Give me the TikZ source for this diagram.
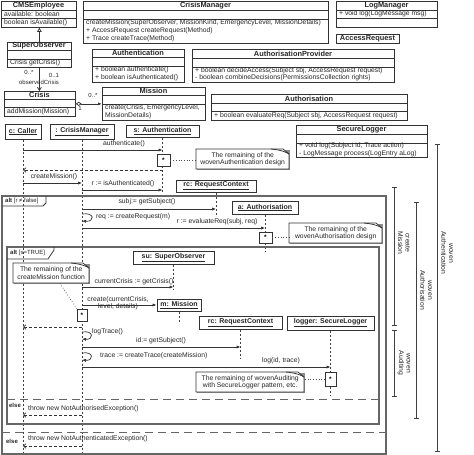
\documentclass[tikz,border=0pt]{standalone}
\usepackage{fontspec}
\setmainfont{Liberation Sans}
\usetikzlibrary{arrows.meta,calc}
\tikzset{
  ln/.style={draw=black!80, line width=0.75pt},
  txt/.style={inner sep=0pt, font=\fontsize{6.8}{7.6}\selectfont, text=black!85},
  smalltxt/.style={inner sep=0pt, font=\fontsize{6}{7}\selectfont, text=black!85},
  ttl/.style={inner sep=0pt, font=\fontsize{7.4}{8}\selectfont\bfseries, text=black!85},
  clsbox/.style={ln, fill=white, inner sep=0pt},
  head/.style={draw=black!80, line width=1pt, fill=white, inner sep=0pt, font=\fontsize{7}{8}\selectfont\bfseries, text=black!85},
  life/.style={draw=black!75, line width=0.7pt, dash pattern=on 2.5pt off 1.5pt},
  msg/.style={draw=black!80, line width=0.7pt, -{Latex[length=4pt,width=3.2pt]}},
  ret/.style={draw=black!80, line width=0.7pt, dash pattern=on 3pt off 2pt, -{Straight Barb[length=2.5pt,width=4.5pt]}},
  act/.style={draw=black!80, line width=0.8pt, fill=white, inner sep=0pt, font=\fontsize{6.5}{7}\selectfont\bfseries},
  frm/.style={draw=black!60, line width=1.3pt},
  elsel/.style={draw=black!60, line width=0.9pt, dash pattern=on 8pt off 5pt},
  dots/.style={draw=black!70, line width=0.7pt, dotted},
  brk/.style={draw=black!75, line width=0.7pt, {Bar[width=5pt]}-{Bar[width=5pt]}},
  rottxt/.style={txt, rotate=-90, align=center}
}
\newcommand\umlcls[8]{%
  \node[clsbox, anchor=north west, minimum width={(#4)-(#2)}, minimum height={(#5)-(#3)}] (#1) at (#2,#3) {};
  \draw[ln] (#2,#6) -- (#4,#6);
  \draw[ln] (#2,#7) -- (#4,#7);
  \node[ttl] (#1-t) at ({((#2)+(#4))/2},{((#3)+(#6))/2}) {#8};
}
\newcommand\umlnote[7]{%
  \fill[black!45] ({#2+1.2},{#3+1.2}) rectangle ({#4+1.2},{#5+1.2});
  \node[inner sep=0pt, anchor=north west, minimum width={(#4)-(#2)}, minimum height={(#5)-(#3)}] (#1) at (#2,#3) {};
  \draw[ln, fill=white] (#2,#3) -- ({#4-6},#3) -- (#4,{#3+5}) -- (#4,#5) -- (#2,#5) -- cycle;
  \draw[ln] ({#4-18},#3) .. controls ({#4-8},{#3+1}) and ({#4-3},{#3+3}) .. (#4,{#3+5});
  \node[txt, align=center] (#1-t) at (#1.center) {#6\\#7};
}
\begin{document}
\begin{tikzpicture}[x=1pt,y=-1pt]
\useasboundingbox (0,0) rectangle (474,455);

% ---------- class diagram ----------
\umlcls{cmse}{1}{1}{76}{27}{10}{18}{CMSEmployee}
\node[txt,anchor=west] (cmse-a) at (4,14) {available: boolean};
\node[txt,anchor=west] (cmse-o) at (4,22.5) {boolean isAvailable()};

\umlcls{cman}{83}{1}{328}{43}{10}{19}{CrisisManager}
\node[txt,anchor=west] (cman-o1) at (86,23) {createMission(SuperObserver, MissionKind, EmergencyLevel, MissionDetails)};
\node[txt,anchor=west] (cman-o2) at (86,31) {+ AccessRequest createRequest(Method)};
\node[txt,anchor=west] (cman-o3) at (86,39) {+ Trace createTrace(Method)};

\umlcls{logm}{336}{1}{437}{27}{10}{18}{LogManager}
\node[txt,anchor=west] (logm-o) at (339,14) {+ void log(LogMessage msg)};

\node[clsbox, ttl, minimum width=63, minimum height=9] (accr) at (367.5,38.5) {AccessRequest};

\umlcls{supo}{7}{42}{71}{67}{50}{59}{SuperObserver}
\node[txt,anchor=west] (supo-o) at (10,63) {Crisis getCrisis()};

\umlcls{authn}{92}{49}{184}{82}{57}{66}{Authentication}
\node[txt,anchor=west] (authn-o1) at (95,70) {+ boolean authenticate()};
\node[txt,anchor=west] (authn-o2) at (95,78) {+ boolean isAuthenticated()};

\umlcls{authp}{192}{49}{394}{82}{58}{67}{AuthorisationProvider}
\node[txt,anchor=west] (authp-o1) at (195,71) {+ boolean decideAccess(Subject sbj, AccessRequest request)};
\node[txt,anchor=west] (authp-o2) at (195,78) {- boolean combineDecisions(PermissionsCollection rights)};

\umlcls{cris}{4}{91}{75}{116}{99}{107}{Crisis}
\node[txt,anchor=west] (cris-o) at (7,112) {addMission(Mission)};

\umlcls{miss}{102}{87}{205}{120}{95}{104}{Mission}
\node[txt,anchor=west] (miss-o1) at (105,108) {create(Crisis, EmergencyLevel,};
\node[txt,anchor=west] (miss-o2) at (105,116) {MissionDetails)};

\umlcls{authz}{211}{94}{407}{120}{103}{111}{Authorisation}
\node[txt,anchor=west] (authz-o) at (214,116) {+ boolean evaluateReq(Subject sbj, AccessRequest request)};

\umlcls{slog}{296}{125}{427}{157}{134}{143}{SecureLogger}
\node[txt,anchor=west] (slog-o1) at (299,146) {+ void log(Subject id, Trace action)};
\node[txt,anchor=west] (slog-o2) at (299,154) {- LogMessage process(LogEntry aLog)};

\draw[ln, -{Triangle[open,length=4pt,width=4.5pt]}] (supo.north) -- (supo.north |- cmse.south);
\draw[ln, -{Straight Barb[length=3pt,width=4pt]}] (supo.south) -- (supo.south |- cris.north);
\node[smalltxt] (as1) at (29,72) {0..*};
\node[smalltxt] (as2) at (54,75) {0..1};
\node[smalltxt] (as3) at (39,82) {observedCrisis};
\draw[ln, {Diamond[open,length=6pt,width=4pt]}-{Latex[length=4pt,width=3pt]}] (cris.east) -- (miss.west);
\node[smalltxt] (as4) at (93,95) {0..*};
\node[smalltxt] (as5) at (80,108) {1};

% ---------- sequence diagram: heads ----------
\node[head, minimum width=36, minimum height=15] (caller) at (23,131.5) {\underline{c: Caller}};
\node[head, minimum width=64, minimum height=15] (cm) at (82,131.5) {\underline{: CrisisManager}};
\node[head, minimum width=73, minimum height=12] (s) at (162.5,131) {\underline{s: Authentication}};
\node[head, minimum width=80, minimum height=12] (rc1) at (216,186) {\underline{rc: RequestContext}};
\node[head, minimum width=66, minimum height=13] (a) at (265,207.5) {\underline{a: Authorisation}};
\node[head, minimum width=81, minimum height=13] (su) at (173.5,257.5) {\underline{su: SuperObserver}};
\node[head, minimum width=44, minimum height=12] (m) at (179,305) {\underline{m: Mission}};
\node[head, minimum width=83, minimum height=13] (rc2) at (240.5,322.5) {\underline{rc: RequestContext}};
\node[head, minimum width=87, minimum height=14] (logger) at (330.5,323) {\underline{logger: SecureLogger}};

% lifelines
\draw[life] (caller.south) -- (caller |- 0,453);
\draw[life] (cm.south) -- (cm |- 0,453);
\draw[life] (s.south) -- (s |- 0,193);
\draw[life] (rc1.south) -- (rc1 |- 0,215);
\draw[life] (a.south) -- (a |- 0,252);
\draw[life] (su.south) -- (su |- 0,290);
\draw[life] (m.south) -- (m |- 0,323);
\draw[life] (rc2.south) -- (rc2 |- 0,358);
\draw[life] (logger.south) -- (logger |- 0,395);

% frames
\draw[frm] (2,196) rectangle (386,454);
\draw[ln] (2,206) -- (43,206) -- (46,203) -- (46,196);
\node[smalltxt, anchor=west] (alt1) at (5,201) {\textbf{alt} [r ≠ false]};
\draw[frm] (7,247) rectangle (379,424);
\draw[ln] (7,259) -- (48,259) -- (54,250) -- (54,247);
\node[smalltxt, anchor=west] (alt2) at (10,253) {\textbf{alt} [s=TRUE]};
\draw[elsel] (7,399) -- (379,399);
\node[smalltxt, font=\fontsize{6}{7}\selectfont\bfseries] (else2) at (15,405) {else};
\draw[elsel] (2,432) -- (386,432);
\node[smalltxt, font=\fontsize{6}{7}\selectfont\bfseries] (else1) at (12,441) {else};

% messages
\draw[msg] (caller |- 0,150) -- (s |- 0,150);
\node[txt] (l1) at (124,144) {authenticate()};
\draw[ret] (s |- 0,170) -- (caller |- 0,170);
\draw[msg] (caller |- 0,183) -- (cm |- 0,183);
\node[txt] (l2) at (54,177) {createMission()};
\draw[msg] (cm |- 0,190) -- (s |- 0,190);
\node[txt] (l3) at (123,184) {r := isAuthenticated()};
\draw[msg] (cm |- 0,209) -- (rc1 |- 0,209);
\node[txt] (l4) at (147,202) {subj:= getSubject()};
\draw[msg] (cm |- 0,214) .. controls (95,212) and (95,222) .. (cm |- 0,221);
\node[txt, anchor=west] (l5) at (96,217) {req := createRequest(m)};
\draw[msg] (cm |- 0,228) -- (a |- 0,228);
\node[txt] (l6) at (217,222) {r := evaluateReq(subj, req)};
\draw[msg] (cm |- 0,287) -- (su |- 0,287);
\node[txt] (l7) at (134,282) {currentCrisis := getCrisis()};
\draw[msg] (cm |- m.west) -- (m.west);
\node[txt, align=center, font=\fontsize{6.8}{7}\selectfont] (l8) at (118,303.5) {create(currentCrisis,\\level, details)};
\draw[ret] (cm |- 0,327) -- (caller |- 0,327);
\draw[msg] (cm |- 0,332) .. controls (94,330) and (94,340) .. (cm |- 0,339);
\node[txt, anchor=west] (l9) at (92,332) {logTrace()};
\draw[msg] (cm |- 0,347) -- (rc2 |- 0,347);
\node[txt] (l10) at (161,341) {id:= getSubject()};
\draw[msg] (cm |- 0,353) .. controls (94,351) and (94,361) .. (cm |- 0,360);
\node[txt, anchor=west] (l11) at (100,356) {trace := createTrace(createMission)};
\draw[msg] (cm |- 0,367) -- (logger |- 0,367);
\node[txt] (l12) at (281,361) {log(id, trace)};
\draw[ret] (cm |- 0,415) -- (caller |- 0,415);
\node[txt, anchor=west] (l13) at (28,409) {throw new NotAuthorisedException()};
\draw[ret] (cm |- 0,446) -- (caller |- 0,446);
\node[txt, anchor=west] (l14) at (28,439) {throw new NotAuthenticatedException()};

% notes
\umlnote{n1}{196}{149}{289}{169}{The remaining of the}{wovenAuthentication design}
\umlnote{n2}{289}{223}{382}{243}{The remaining of the}{wovenAuthorisation design}
\umlnote{n3}{13}{263}{89}{283}{The remaining of the}{createMission function}
\umlnote{n4}{196}{372}{304}{392}{The remaining of wovenAuditing}{with SecureLogger pattern, etc.}

% activations
\node[act, minimum width=13, minimum height=12] (as) at (163.5,160) {*};
\node[act, minimum width=13, minimum height=11] (aa) at (265.5,237.5) {*};
\node[act, minimum width=10, minimum height=12] (acm) at (82,315) {*};
\node[act, minimum width=11, minimum height=14] (alog) at (330.5,379) {*};
\draw[dots] (as.east) -- (as.east -| n1.west);
\draw[dots] (aa.east) -- (aa.east -| n2.west);
\draw[dots] ($(n3.south west)+(47,0)$) -- (acm.north west);
\draw[dots] (alog.west) -- (alog.west -| n4.east);

% brackets
\draw[brk] (394,187) -- (394,326);
\node[rottxt] (b1) at (404,243) {create\\Mission};
\draw[brk] (394,330) -- (394,397);
\node[rottxt] (b2) at (404,363) {woven\\Auditing};
\draw[brk] (416,202) -- (416,419);
\node[rottxt] (b3) at (426,290) {woven\\Authorisation};
\draw[brk] (437,144) -- (437,452);
\node[rottxt] (b4) at (447,253) {woven\\Authentication};
\end{tikzpicture}
\end{document}
